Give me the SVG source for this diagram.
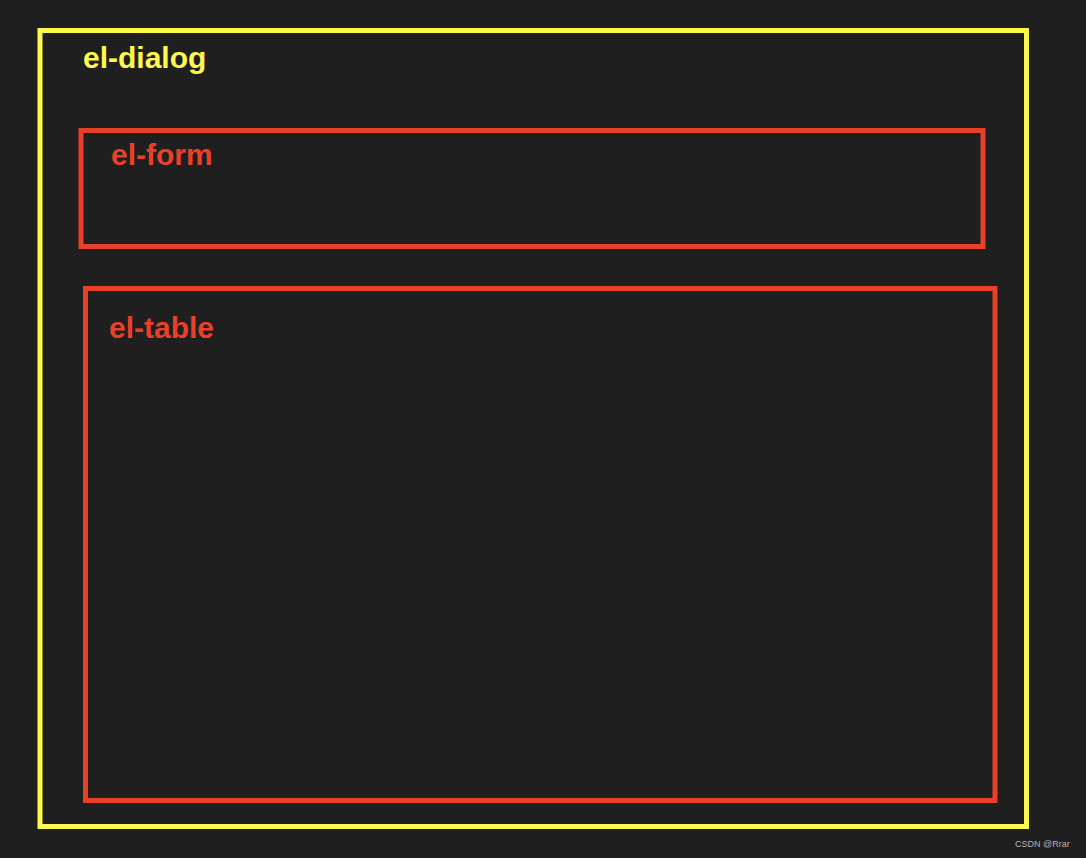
<svg xmlns="http://www.w3.org/2000/svg" width="1086" height="858" viewBox="0 0 1086 858">
<style>
.box{fill:none;stroke-width:5}
.y{stroke:#fdf84c}
.r{stroke:#e9402a}
.lbl{font-family:"Liberation Sans",Arial,sans-serif;font-weight:bold;font-size:30px}
.wm{font-family:"Liberation Sans",Arial,sans-serif;font-size:9px;fill:#b4b4b4}
</style>
<rect width="1086" height="858" fill="#1f1f1f"/>
<g id="el-dialog">
<rect class="box y" x="40" y="30.5" width="986.5" height="796"/>
<text class="lbl" x="83" y="67.5" fill="#fdf84c">el-dialog</text>
</g>
<g id="el-form">
<rect class="box r" x="81" y="130.5" width="902" height="116"/>
<text class="lbl" x="111" y="165" fill="#e9402a">el-form</text>
</g>
<g id="el-table">
<rect class="box r" x="85.5" y="288.5" width="909.5" height="512"/>
<text class="lbl" x="109" y="337.5" fill="#e9402a">el-table</text>
</g>
<g id="connectors"/>
<text class="wm" x="1015" y="847">CSDN @Rrar</text>
</svg>
